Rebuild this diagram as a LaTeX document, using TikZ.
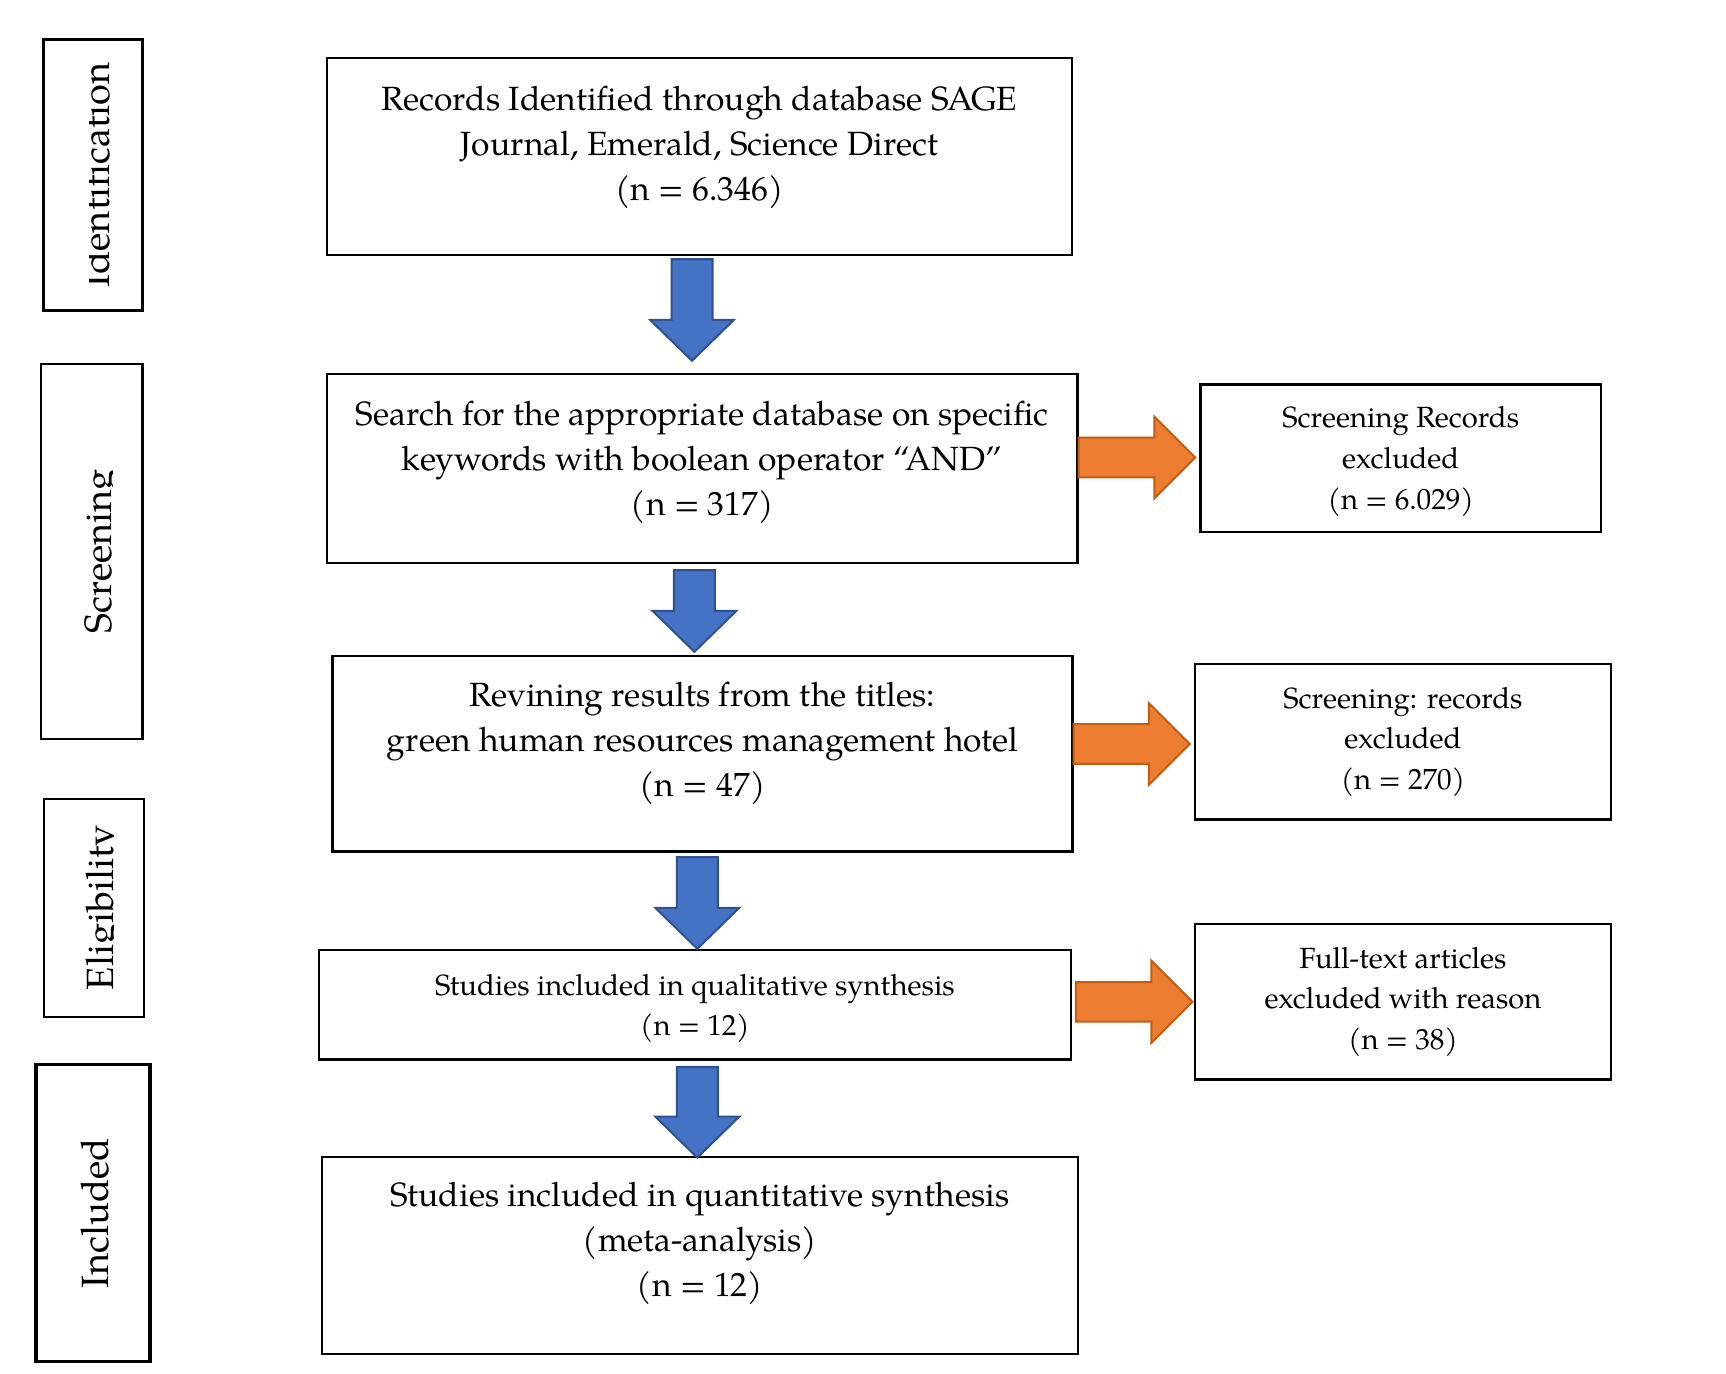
\documentclass[tikz,border=0pt]{standalone}
\usepackage{fontspec}
\setmainfont{texgyrepagella}[Extension=.otf, UprightFont=*-regular]
\usetikzlibrary{calc,positioning}

\definecolor{flowblue}{HTML}{4472C4}
\definecolor{flowblueline}{HTML}{2F528F}
\definecolor{floworange}{HTML}{ED7D31}
\definecolor{floworangeline}{HTML}{C55A11}

\begin{document}
\begin{tikzpicture}[
  x=0.5pt, y=-0.5pt,
  box/.style={draw, line width=1.2pt, align=center, inner sep=0pt,
              font=\fontsize{16.8}{22.5}\selectfont},
  smallbox/.style={box, font=\fontsize{14.6}{20.4}\selectfont},
  phase/.style={draw, line width=1.2pt, rotate=90, inner sep=0pt, text depth=0pt,
                font=\fontsize{19}{22}\selectfont},
  dnarrow/.style={draw=flowblueline, fill=flowblue, line width=1pt,
    to path={let \p1=(\tikztostart), \p2=(\tikztotarget) in
      (\x1-10.25pt,\y1) -- (\x1-10.25pt,\y2+20.5pt) -- (\x1-21pt,\y2+20.5pt)
      -- (\x1,\y2) -- (\x1+21pt,\y2+20.5pt) -- (\x1+10.25pt,\y2+20.5pt)
      -- (\x1+10.25pt,\y1) -- cycle}},
  exarrow/.style={draw=floworangeline, fill=floworange, line width=1pt,
    to path={let \p1=(\tikztostart), \p2=(\tikztotarget) in
      (\x1,\y2+9.9pt) -- (\x2-20.5pt,\y2+9.9pt) -- (\x2-20.5pt,\y2+20.5pt)
      -- (\x2,\y2) -- (\x2-20.5pt,\y2-20.5pt) -- (\x2-20.5pt,\y2-9.9pt)
      -- (\x1,\y2-9.9pt) -- cycle}}
]
  \useasboundingbox (0,0) rectangle (1726,1374);

  % phase labels (text frames cut the glyphs as in the source)
  \begin{scope}[even odd rule]
    \clip (0,0) rectangle (200,340) (60,55) rectangle (89,295);
    \node[phase, text height=16pt, minimum width=135.5pt, minimum height=49.5pt] (idlbl) at (93,175) {Identification};
  \end{scope}
  \begin{scope}[even odd rule]
    \clip (0,350) rectangle (200,760) (112,450) rectangle (135,655);
    \node[phase, text height=19.25pt, minimum width=187.5pt, minimum height=50.75pt] (scrlbl) at (91.75,551.5) {Screening};
  \end{scope}
  \begin{scope}[even odd rule]
    \clip (0,780) rectangle (200,1035) (113,815) rectangle (135,1000);
    \node[phase, text height=19.3pt, minimum width=109pt, minimum height=50pt] (elilbl) at (93.7,907.7) {Eligibility};
  \end{scope}
  \node[phase, text height=15pt, line width=1.6pt, minimum width=148.5pt, minimum height=57pt] (inclbl) at (93,1213.3) {Included};

  % main flow
  \node[box, minimum width=372.5pt, minimum height=98.5pt, text depth=13.4pt] (recbox) at (699.5,156.4)
    {Records Identified through database SAGE\\Journal, Emerald, Science Direct\\(n = 6.346)};
  \node[box, minimum width=375.25pt, minimum height=94.5pt, text depth=10.5pt] (srchbox) at (702.25,468.5)
    {Search for the appropriate database on specific\\keywords with boolean operator “AND”\\(n = 317)};
  \node[box, minimum width=370pt, minimum height=97.8pt, text depth=15pt] (refbox) at (702.5,753.8)
    {Revining results from the titles:\\green human resources management hotel\\(n = 47)};
  \node[smallbox, minimum width=376pt, minimum height=54.8pt, text depth=0pt] (qualbox) at (695,1004.8)
    {Studies included in qualitative synthesis\\(n = 12)};
  \node[box, minimum width=378pt, minimum height=98.5pt, text depth=16.3pt] (quantbox) at (700,1255.5)
    {Studies included in quantitative synthesis\\(meta-analysis)\\(n = 12)};

  % exclusions
  \node[smallbox, minimum width=200.25pt, minimum height=73.65pt, text depth=0pt] (excl1) at (1400.75,458.2)
    {Screening Records\\excluded\\(n = 6.029)};
  \node[smallbox, minimum width=208pt, minimum height=77.8pt] (excl2) at (1403,741.8)
    {Screening: records\\excluded\\(n = 270)};
  \node[smallbox, minimum width=208pt, minimum height=77.85pt] (excl3) at (1403,1001.8)
    {Full-text articles\\excluded with reason\\(n = 38)};

  \draw[dnarrow] ([xshift=-3.75pt,yshift=-1.5pt]recbox.south) to ([yshift=6pt]srchbox.north);
  \draw[dnarrow] ([xshift=-3.9pt,yshift=-3pt]srchbox.south) to ([yshift=1.5pt]refbox.north);
  \draw[dnarrow] ([xshift=-2.6pt,yshift=-2.2pt]refbox.south) to (qualbox.north);
  \draw[dnarrow] ([xshift=1.15pt,yshift=-3pt]qualbox.south) to ([yshift=-0.9pt]quantbox.north);

  \draw[exarrow] (srchbox.east) to ([xshift=-2pt,yshift=0.35pt]excl1.west);
  \draw[exarrow] (refbox.east) to ([xshift=-2pt,yshift=-1.1pt]excl2.west);
  \draw[exarrow] ([xshift=1.8pt]qualbox.east) to ([xshift=-0.7pt]excl3.west);
\end{tikzpicture}
\end{document}
